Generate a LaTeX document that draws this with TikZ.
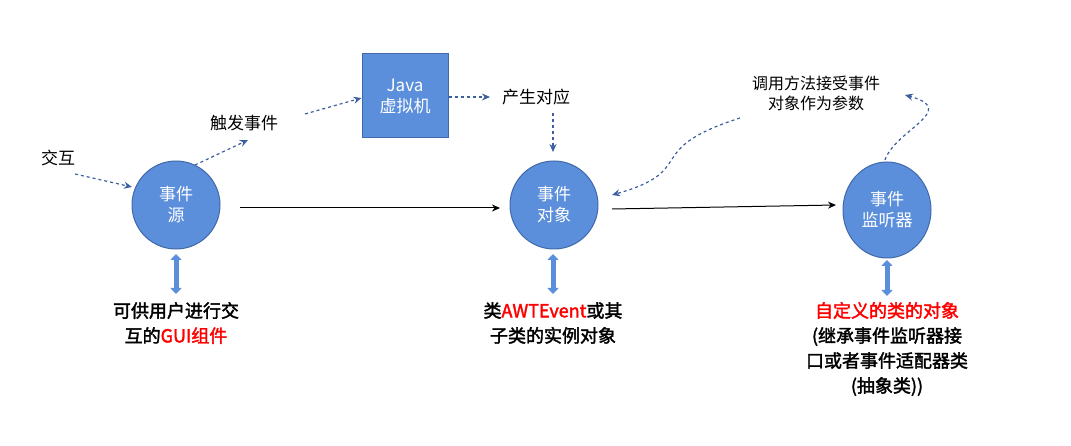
\documentclass[tikz,border=0pt]{standalone}
\usepackage{fontspec}
\setmainfont[AutoFakeBold=2]{Noto Sans CJK SC}
\usetikzlibrary{arrows.meta,shapes.geometric}
\definecolor{nodeblue}{RGB}{91,143,219}
\definecolor{edgeblue}{RGB}{65,105,170}
\definecolor{dashblue}{RGB}{60,95,160}
\tikzset{
  circ/.style={circle,fill=nodeblue,draw=edgeblue,line width=1pt,minimum size=88pt,inner sep=0pt,text=white,align=center,font=\fontsize{17}{21}\selectfont},
  lbl/.style={font=\fontsize{17}{21}\selectfont,inner sep=1pt},
  blbl/.style={font=\fontsize{18}{25}\selectfont\bfseries,align=center,inner sep=1pt},
  dsh/.style={dashed,dashblue,line width=1.2pt,-{Stealth[length=8pt,width=7pt]}},
  blk/.style={black,line width=1pt,-{Stealth[length=8pt,width=7pt]}},
  dbl/.style={nodeblue,line width=5pt,{Triangle[length=6pt,width=11pt]}-{Triangle[length=6pt,width=11pt]}}
}
\begin{document}
\begin{tikzpicture}[x=1pt,y=-1pt]
\useasboundingbox (0,0) rectangle (1071,446);
\node[circ] (src) at (176,205) {事件\\源};
\node[circ] (obj) at (554,205) {事件\\对象};
\node[circ,ellipse,minimum width=88pt,minimum height=96pt] (lis) at (887,210) {事件\\监听器};
\node[rectangle,fill=nodeblue,draw=edgeblue,line width=1pt,minimum width=86pt,minimum height=84pt,text=white,align=center,font=\fontsize{17}{21}\selectfont] (jvm) at (405,96) {Java\\虚拟机};
\node[lbl] (jh) at (58,158) {交互};
\node[lbl] (cf) at (244,123) {触发事件};
\node[lbl] (cs) at (536,97) {产生对应};
\node[lbl,align=center,font=\fontsize{16}{20}\selectfont] (dy) at (816,93) {调用方法接受事件\\对象作为参数};
\coordinate (a1) at (75,174); \coordinate (a2) at (132,187);
\draw[dsh] (a1) -- (a2);
\coordinate (b1) at (195,165); \coordinate (b2) at (248,140);
\draw[dsh] (b1) -- (b2);
\coordinate (c1) at (305,114);
\draw[dsh] (c1) -- (jvm.west |- 0,98);
\coordinate (d1) at (490,97);
\draw[dsh] (jvm.east |- 0,97) -- (d1);
\coordinate (e1) at (553,113); \coordinate (e2) at (553,152);
\draw[dsh] (e1) -- (e2);
\coordinate (f1) at (740,118); \coordinate (f2) at (612,195);
\draw[dsh] (f1) .. controls (640,150) and (700,170) .. (f2);
\coordinate (g1) at (885,160); \coordinate (g2) at (905,95);
\draw[dsh] (g1) .. controls (895,130) and (960,110) .. (g2);
\coordinate (h1) at (240,208); \coordinate (h2) at (500,208);
\draw[blk] (h1) -- (h2);
\coordinate (i1) at (612,209); \coordinate (i2) at (836,205);
\draw[blk] (i1) -- (i2);
\coordinate (s1) at (176,254); \coordinate (s2) at (176,294);
\draw[dbl] (s1) -- (s2);
\coordinate (o1) at (553,254); \coordinate (o2) at (553,294);
\draw[dbl] (o1) -- (o2);
\coordinate (l1) at (887,260); \coordinate (l2) at (887,296);
\draw[dbl] (l1) -- (l2);
\node[blbl] (t1) at (176,323) {可供用户进行交\\互的\textcolor{red}{GUI组件}};
\node[blbl] (t2) at (553,323) {类\textcolor{red}{AWTEvent}或其\\子类的实例对象};
\node[blbl] (t3) at (887,349) {\textcolor{red}{自定义的类的对象}\\(继承事件监听器接\\口或者事件适配器类\\(抽象类))};
\end{tikzpicture}
\end{document}
